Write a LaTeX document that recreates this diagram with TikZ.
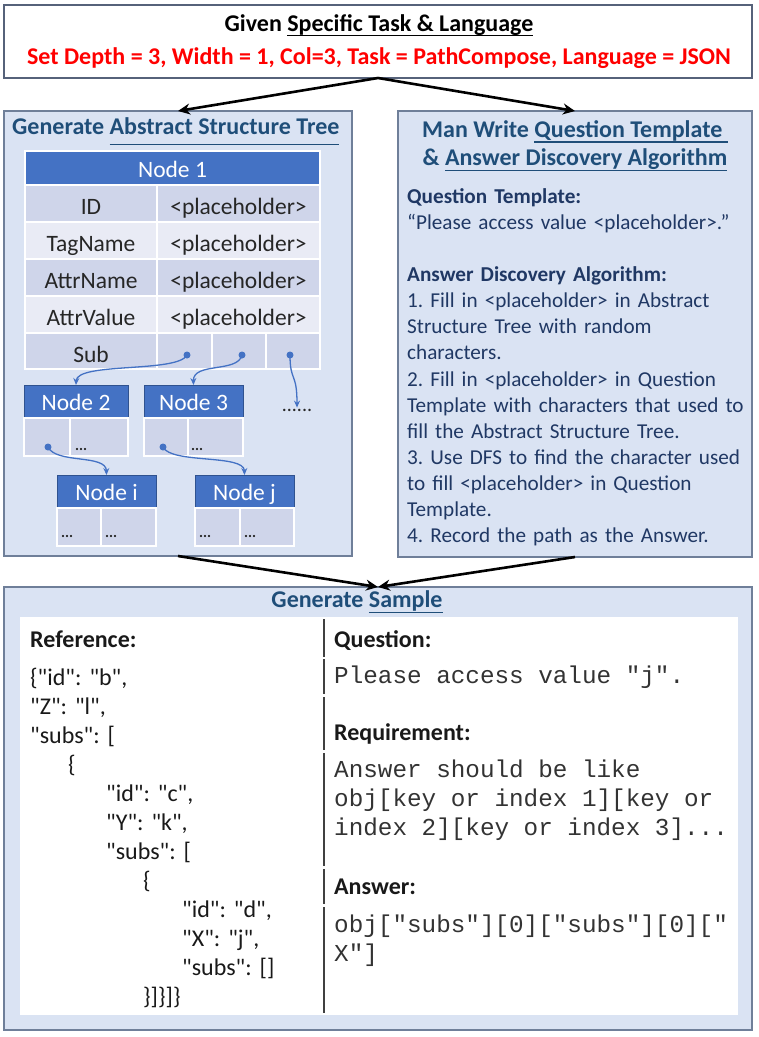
\documentclass[tikz,border=0pt]{standalone}
\usepackage{fontspec}
\setmainfont{Carlito}[Ligatures=TeXOff]
\newfontfamily\cour{Liberation Mono}[Ligatures=TeXOff]
\frenchspacing
\usetikzlibrary{arrows.meta}
\definecolor{panelfill}{HTML}{DAE3F3}
\definecolor{panelline}{HTML}{6F7F99}
\definecolor{boxline}{HTML}{56627A}
\definecolor{titleblue}{HTML}{1F4E79}
\definecolor{hdrblue}{HTML}{4472C4}
\definecolor{hdrline}{HTML}{2F528F}
\definecolor{rowdark}{HTML}{CFD5EA}
\definecolor{rowlight}{HTML}{E9EBF5}
\definecolor{navy}{HTML}{203864}
\definecolor{tabtext}{HTML}{262626}
\definecolor{monotext}{HTML}{333333}
\newcommand\myul[2][5.5pt]{\setbox0=\hbox{#2}\rlap{\rule[-#1]{\wd0}{1.2pt}}\box0}
\newcommand\monosp{\spaceskip=0.6em plus 0pt minus 0pt\xspaceskip=0.6em\relax}
\begin{document}
\begin{tikzpicture}[x=1pt,y=-1pt,
  panel/.style={draw=panelline, fill=panelfill, line width=1.3, inner sep=0, outer sep=0, anchor=north west},
  cell/.style={draw=white, line width=1.5, inner sep=0, outer sep=0, anchor=north west,
     font=\fontsize{23.5}{28}\selectfont, text=tabtext, text height=22, text depth=0},
  dk/.style={cell, fill=rowdark},
  lt/.style={cell, fill=rowlight},
  hdr/.style={fill=hdrblue, inner sep=0, outer sep=0, anchor=north west, text=white,
     font=\fontsize{23.5}{28}\selectfont, text height=18, text depth=0},
  smallhdr/.style={hdr, draw=hdrline, line width=0.8, minimum width=99, minimum height=33},
  title/.style={font=\bfseries\fontsize{24}{29}\selectfont, text=titleblue, inner sep=0},
  bigarrow/.style={line width=2.6, -{Stealth[length=12,width=11]}},
  dot/.style={circle, fill=hdrblue, inner sep=0, minimum size=7},
  curvearrow/.style={draw=hdrblue, line width=1.3, -{Stealth[length=7,width=6]}},
  ell/.style={font=\bfseries\fontsize{15}{18}\selectfont, text=tabtext, inner sep=0, anchor=base west},
  divider/.style={draw=black!75, line width=1.2},
  bhead/.style={font=\bfseries\fontsize{24}{29}\selectfont, text=black!90, inner sep=0, anchor=base west},
  mono/.style={font={\cour\fontsize{24.3}{29}\selectfont}, text=monotext, inner sep=0, anchor=base west, align=left, text width=405}
]
\useasboundingbox (0,0) rectangle (759,1037);

% ---------- top box ----------
\node[panel, draw=boxline, fill=white, line width=1.2, minimum width=748, minimum height=73] (top) at (4,5) {};
\node[anchor=base, inner sep=0, font=\bfseries\fontsize{24}{29}\selectfont] (toptitle) at (379,31) {Given \myul[5pt]{Specific Task \& Language}};
\node[anchor=base, inner sep=0, font=\bfseries\fontsize{24}{29}\selectfont, text=red] (setline) at (379,64) {Set Depth = 3, Width = 1, Col=3, Task = PathCompose, Language = JSON};

% ---------- panels ----------
\node[panel, minimum width=348, minimum height=445] (left) at (4,111) {};
\node[panel, minimum width=354, minimum height=446] (right) at (398,111) {};
\node[panel, minimum width=748, minimum height=443] (bottom) at (4,587) {};

\draw[bigarrow] (top.south) -- (left.north);
\draw[bigarrow] (top.south) -- (right.north);
\draw[bigarrow] (left.south) -- (bottom.north);
\draw[bigarrow] (right.south) -- (bottom.north);

% ---------- left panel ----------
\node[title, anchor=base west] (lefttitle) at (12,134.5) {Generate \myul[10.5pt]{Abstract Structure Tree}};

\node[hdr, draw=white, line width=1.5, minimum width=295, minimum height=34] (n1h) at (25,151) {Node 1};
\node[dk, minimum width=132, minimum height=37] (idk) at (25,185) {ID};
\node[dk, minimum width=163, minimum height=37] (idv) at (157,185) {<placeholder>};
\node[lt, minimum width=132, minimum height=37] (tagk) at (25,222) {TagName};
\node[lt, minimum width=163, minimum height=37] (tagv) at (157,222) {<placeholder>};
\node[dk, minimum width=132, minimum height=37] (ank) at (25,259) {AttrName};
\node[dk, minimum width=163, minimum height=37] (anv) at (157,259) {<placeholder>};
\node[lt, minimum width=132, minimum height=37] (avk) at (25,296) {AttrValue};
\node[lt, minimum width=163, minimum height=37] (avv) at (157,296) {<placeholder>};
\node[dk, minimum width=132, minimum height=36] (subk) at (25,333) {Sub};
\node[dk, minimum width=55, minimum height=36] (sub1) at (157,333) {};
\node[dk, minimum width=54, minimum height=36] (sub2) at (212,333) {};
\node[dk, minimum width=54, minimum height=36] (sub3) at (266,333) {};

\node[dot] (d1) at (187,355) {};
\node[dot] (d2) at (242,355) {};
\node[dot] (d3) at (290,355) {};

% node 2 and node 3
\node[smallhdr, minimum width=104] (n2h) at (24,385) {Node 2};
\node[dk, minimum width=46, minimum height=38] (n2a) at (24,418) {};
\node[dk, minimum width=58, minimum height=38] (n2b) at (70,418) {};
\node[ell] (n2e) at (75,450) {...};
\node[smallhdr] (n3h) at (144,385) {Node 3};
\node[dk, minimum width=44, minimum height=38] (n3a) at (144,418) {};
\node[dk, minimum width=55, minimum height=38] (n3b) at (188,418) {};
\node[ell] (n3e) at (191,450) {...};
\node[inner sep=1, font=\fontsize{20}{24}\selectfont, text=tabtext] (more) at (297,410) {......};

\node[dot] (d4) at (48,447) {};
\node[dot] (d5) at (163,447) {};

% node i and node j
\node[smallhdr] (nih) at (57,475) {Node i};
\node[dk, minimum width=44, minimum height=38] (nia) at (57,508) {};
\node[dk, minimum width=55, minimum height=38] (nib) at (101,508) {};
\node[ell] (nie1) at (61,537) {...};
\node[ell] (nie2) at (105,537) {...};
\node[smallhdr] (njh) at (195,475) {Node j};
\node[dk, minimum width=45, minimum height=38] (nja) at (195,508) {};
\node[dk, minimum width=54, minimum height=38] (njb) at (240,508) {};
\node[ell] (nje1) at (199,537) {...};
\node[ell] (nje2) at (244,537) {...};

\draw[curvearrow] (d1.center) .. controls (178,373) and (77,362) .. (n2h.north);
\draw[curvearrow] (d2.center) .. controls (238,373) and (193,362) .. (n3h.north);
\draw[curvearrow] (d3.center) .. controls (290,382) and (297,372) .. (more.north);
\draw[curvearrow] (d4.center) .. controls (56,464) and (106,454) .. (nih.north);
\draw[curvearrow] (d5.center) .. controls (171,464) and (244,454) .. (njh.north);

% ---------- right panel ----------
\node[title, anchor=base] (righttitle1) at (575,137) {Man Write \myul[5.5pt]{Question Template\ }};
\node[title, anchor=base] (righttitle2) at (575,165.5) {\& \myul[5.5pt]{Answer Discovery Algorithm}};

\node[anchor=base west, text width=345, align=left, inner sep=0, text=navy,
      font=\fontsize{21.2}{26.15}\selectfont] (rbody) at (407,203) {%
\textbf{Question Template:}\\
“Please access value <placeholder>.”\\
\mbox{}\\
\textbf{Answer Discovery Algorithm:}\\
1. Fill in <placeholder> in Abstract\\
Structure Tree with random\\
characters.\\
2. Fill in <placeholder> in Question\\
Template with characters that used to\\
fill the Abstract Structure Tree.\\
3. Use DFS to find the character used\\
to fill <placeholder> in Question\\
Template.\\
4. Record the path as the Answer.};

% ---------- bottom panel ----------
\node[title, anchor=base] (bottomtitle) at (357,607) {Generate \myul[6pt]{Sample}};
\node[fill=white, inner sep=0, outer sep=0, anchor=north west, minimum width=718, minimum height=398] (sheet) at (20,617) {};

\draw[divider] (324,619) -- (324,657);
\draw[divider] (324,659) -- (324,694);
\draw[divider] (324,697) -- (324,750);
\draw[divider] (324,753) -- (324,866);
\draw[divider] (324,869) -- (324,904);
\draw[divider] (324,907) -- (324,1013);

\node[bhead] (refhead) at (30,647) {Reference:};
\node[anchor=base west, text width=290, align=left, inner sep=0, text=black!90,
      font=\fontsize{24}{29}\selectfont] (json) at (30,685) {%
\{"id": "b",\\
"Z": "l",\\
"subs": [\\
\hspace*{38pt}\{\\
\hspace*{76pt}"id": "c",\\
\hspace*{76pt}"Y": "k",\\
\hspace*{76pt}"subs": [\\
\hspace*{113pt}\{\\
\hspace*{152pt}"id": "d",\\
\hspace*{152pt}"X": "j",\\
\hspace*{152pt}"subs": []\\
\hspace*{113pt}\}]\}]\}};

\node[bhead] (qhead) at (334,647) {Question:};
\node[mono] (qtext) at (334,683) {\monosp Please access value "j".};
\node[bhead] (reqhead) at (334,740) {Requirement:};
\node[mono] (reqtext) at (334,777) {\monosp Answer should be like\\obj[key or index 1][key or\\index 2][key or index 3]...};
\node[bhead] (anshead) at (334,894) {Answer:};
\node[mono] (anstext) at (334,932) {obj["subs"][0]["subs"][0]["\\X"]};
\end{tikzpicture}
\end{document}
